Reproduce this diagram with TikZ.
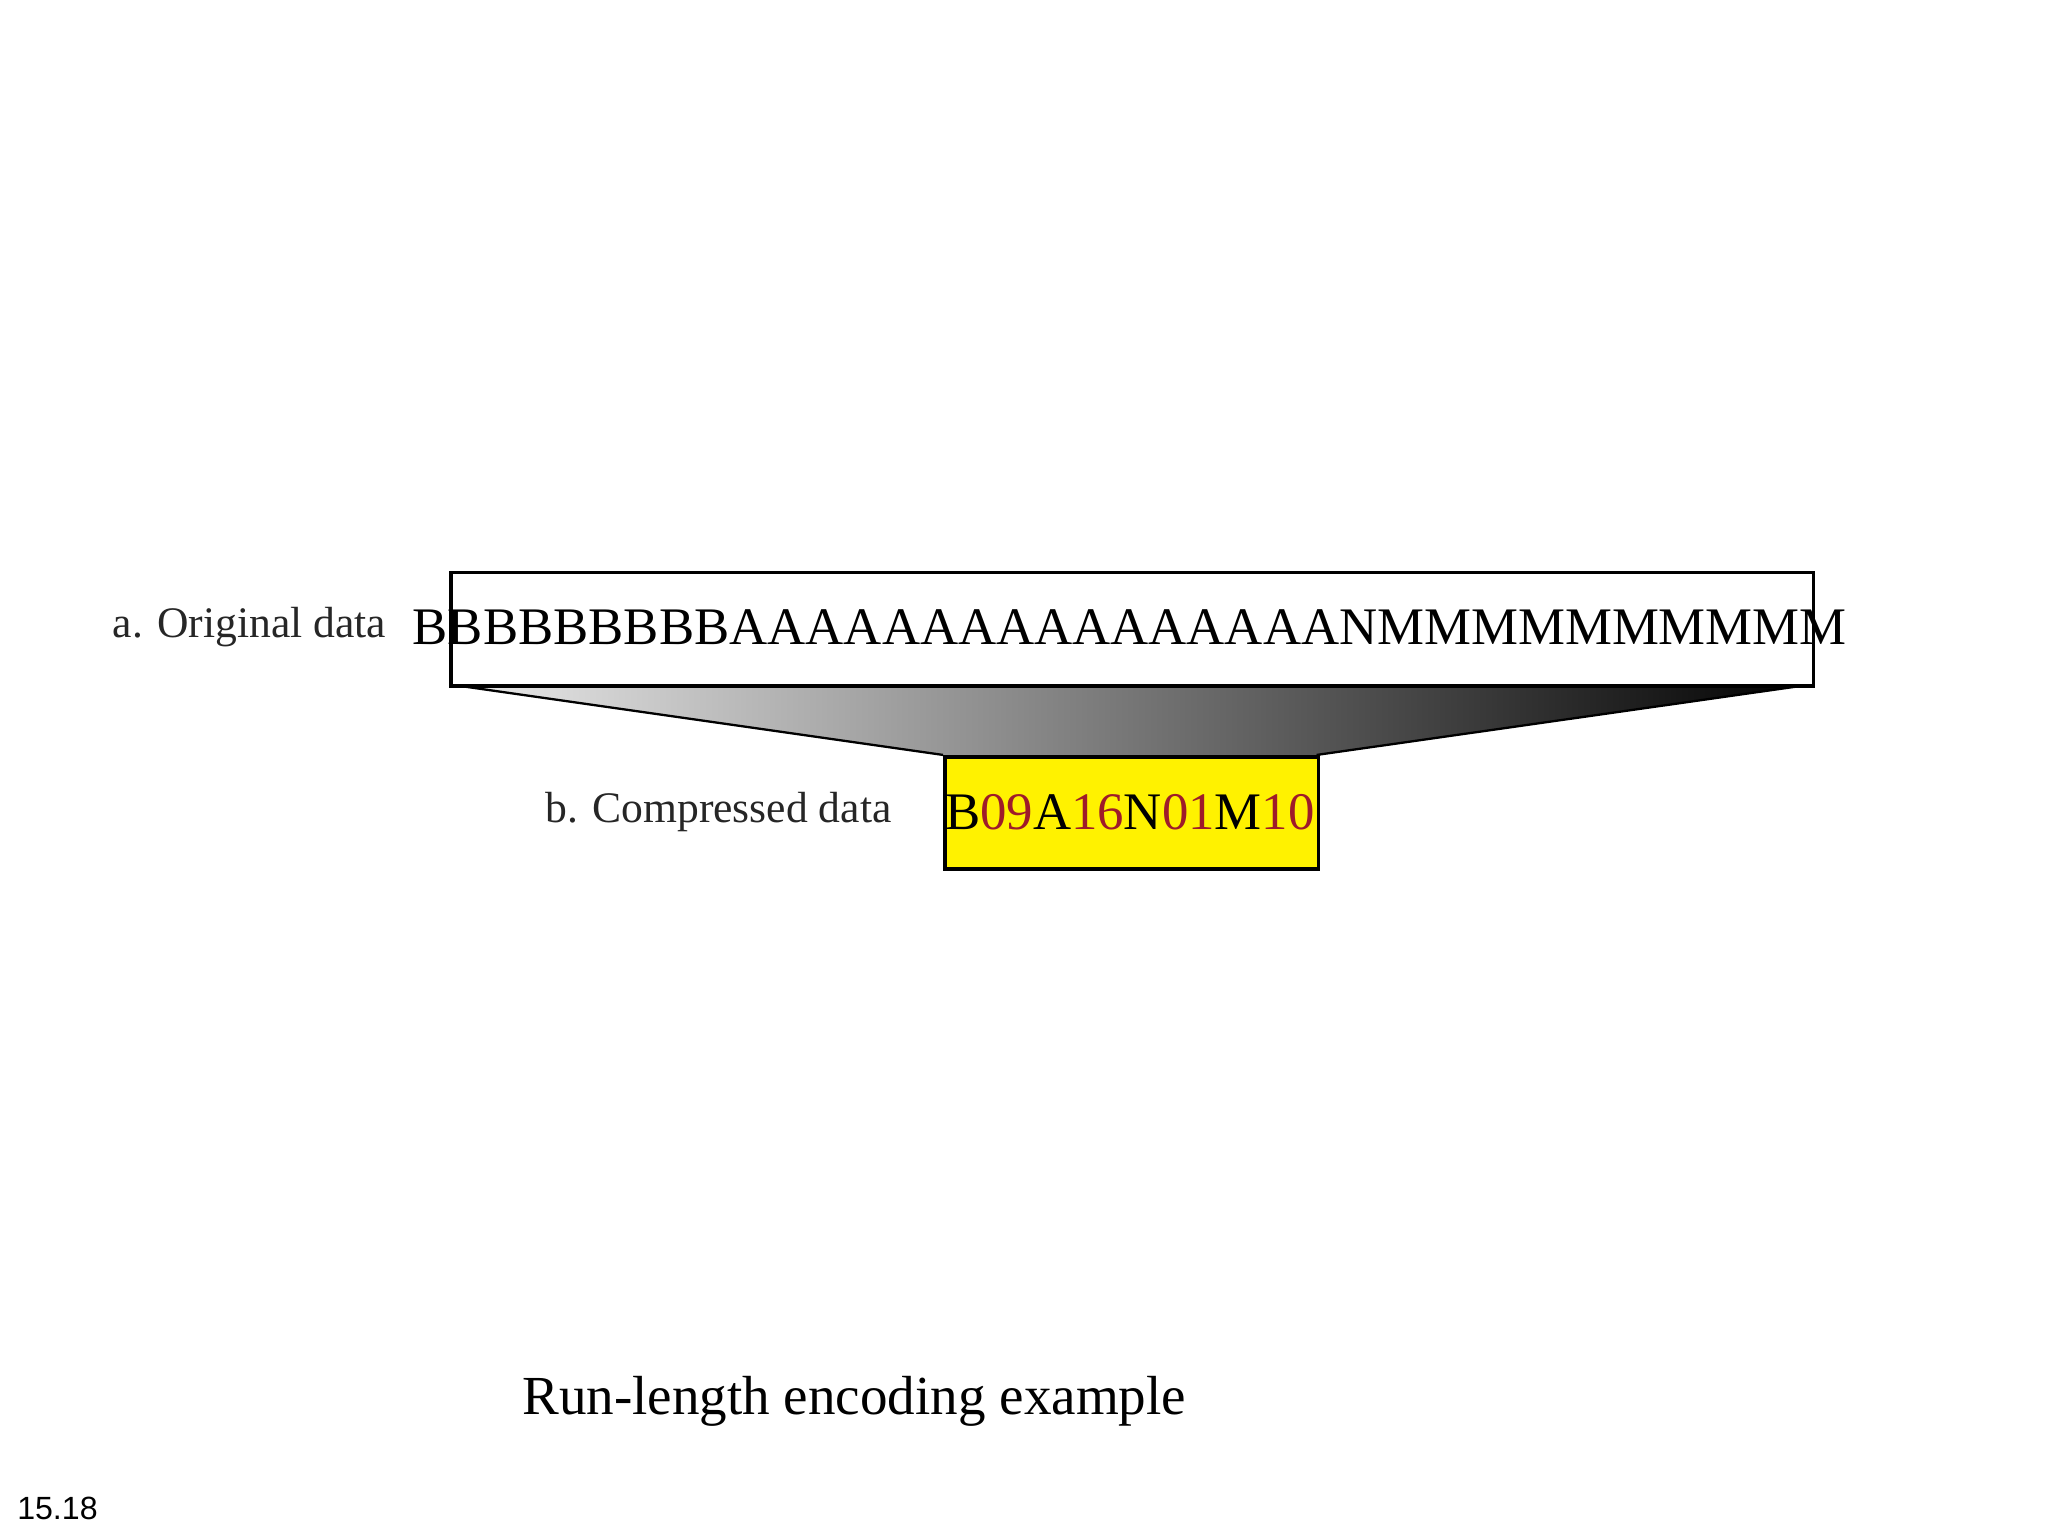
\documentclass[tikz,border=0pt]{standalone}
\usepackage{fontspec}
\setmainfont{Liberation Serif}
\newfontfamily\sanslab{Liberation Sans}
\definecolor{numred}{HTML}{9E1B2A}
\begin{document}
\begin{tikzpicture}[x=0.02cm,y=-0.02cm,
  box/.style={draw,line width=1.6pt,inner sep=0pt}]
\useasboundingbox (0,0) rectangle (1568,1176);
\shade[left color=gray!15,right color=black] (344,524) -- (1387,524) -- (1008,578) -- (722,578) -- cycle;
\draw[line width=1pt] (344,524) -- (722,578) (1387,524) -- (1008,578);
\node[box,minimum width=1043*0.02cm,minimum height=87*0.02cm,anchor=north west,fill=white] (orig) at (344,437) {};
\node[font=\fontsize{23}{26}\selectfont] (origtxt) at (865,480) {BBBBBBBBBAAAAAAAAAAAAAAAANMMMMMMMMMM};
\node[box,minimum width=286*0.02cm,minimum height=86*0.02cm,anchor=north west,fill=yellow] (comp) at (722,578) {};
\node[font=\fontsize{23}{26}\selectfont] (comptxt) at (865,622) {B\textcolor{numred}{09}A\textcolor{numred}{16}N\textcolor{numred}{01}M\textcolor{numred}{10}};
\node[font=\fontsize{19}{22}\selectfont,text=black!85] (la) at (191,480) {a. Original data};
\node[font=\fontsize{19}{22}\selectfont,text=black!85] (lb) at (550,622) {b. Compressed data};
\node[font=\fontsize{24}{28}\selectfont] (title) at (654,1073) {Run-length encoding example};
\node[font=\sanslab\fontsize{14}{16}\selectfont] (num) at (44,1155) {15.18};
\end{tikzpicture}
\end{document}
